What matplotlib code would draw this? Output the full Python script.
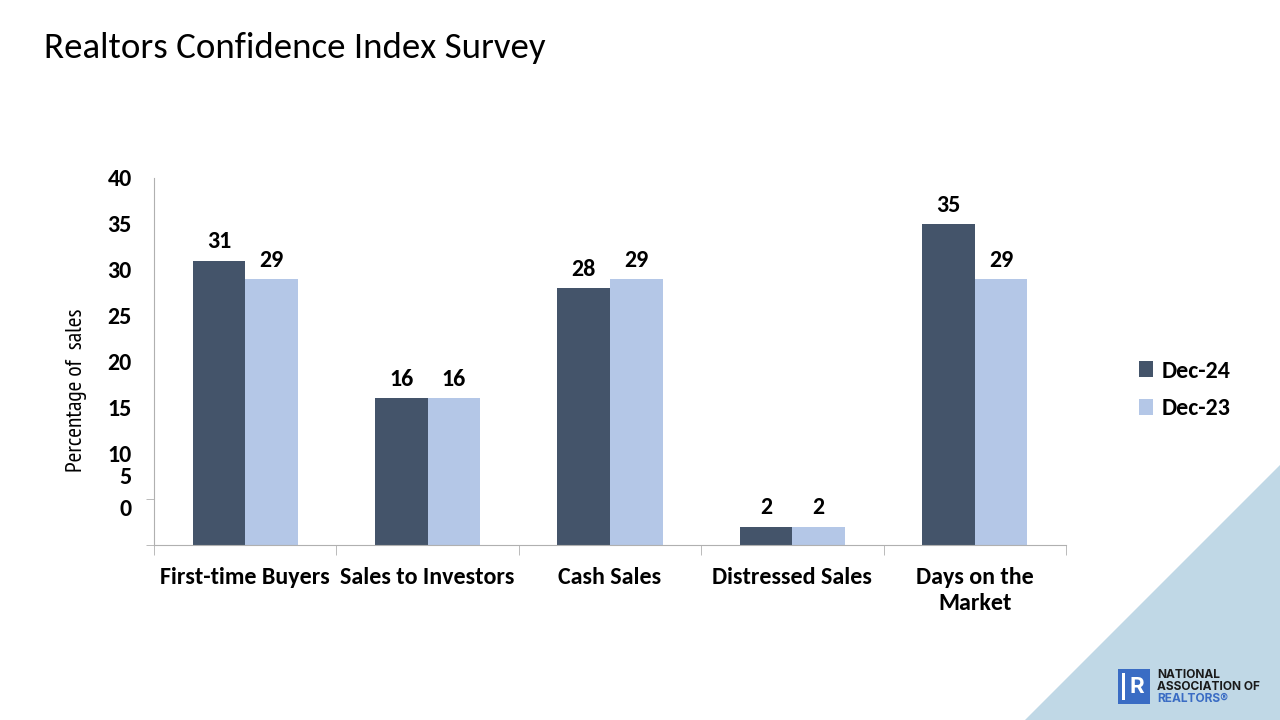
import numpy as np
import matplotlib.pyplot as plt
from matplotlib.patches import Polygon, Rectangle

# dados
categorias = ["First-time Buyers", "Sales to Investors", "Cash Sales",
              "Distressed Sales", "Days on the\nMarket"]
dez24 = [31, 16, 28, 2, 35]
dez23 = [29, 16, 29, 2, 29]
series = ["Dec-24", "Dec-23"]

escuro = "#44546a"
claro = "#b4c7e7"
cinza = "#b0b0b0"
fonte = ["Carlito", "Lato", "DejaVu Sans"]

fig = plt.figure(figsize=(12.8, 7.2), dpi=100)

# fundo: triangulo azul no canto
bg = fig.add_axes([0, 0, 1, 1], zorder=-1)
bg.set_xlim(0, 1280)
bg.set_ylim(720, 0)
bg.axis("off")
bg.add_patch(Polygon([[1280, 465], [1280, 720], [1025, 720]], closed=True,
                     facecolor="#c0d8e6", edgecolor="none"))

# logo
bg.add_patch(Rectangle((1118, 669), 32, 35, facecolor="#3a6cc4", edgecolor="none"))
bg.add_patch(Rectangle((1122, 673), 3, 27, facecolor="white", edgecolor="none"))
bg.text(1137, 687, "R", color="white", fontsize=16, fontweight="bold",
        ha="center", va="center", family=["Inter", "Liberation Sans"])
for yy, txt, cor in [(675, "NATIONAL", "#1a1a1a"), (687, "ASSOCIATION OF", "#1a1a1a"),
                     (699, "REALTORS\u00ae", "#3a6cc4")]:
    bg.text(1157, yy, txt, fontsize=8.6, fontweight="bold", color=cor,
            va="center", family=["Inter", "Liberation Sans"])

# titulo
fig.text(44 / 1280, 1 - 48 / 720, "Realtors Confidence Index Survey", fontsize=26.6,
         family=fonte, va="center", ha="left")

# eixo principal
L, R, T, B = 154, 1066, 178, 545
ax = fig.add_axes([L / 1280, 1 - B / 720, (R - L) / 1280, (B - T) / 720])

x = np.arange(len(categorias))
w = 0.288
b1 = ax.bar(x - w / 2, dez24, w, color=escuro, label=series[0])
b2 = ax.bar(x + w / 2, dez23, w, color=claro, label=series[1])

for barras in (b1, b2):
    for bar in barras:
        ax.annotate(f"{bar.get_height():.0f}",
                    (bar.get_x() + bar.get_width() / 2, bar.get_height()),
                    xytext=(0, 6), textcoords="offset points", ha="center", va="bottom",
                    fontsize=17.3, fontweight="bold", family=fonte)

ax.set_xlim(-0.5, len(categorias) - 0.5)
ax.set_ylim(0, 40)

# marcas do eixo y (como no original, os rotulos de 5 e 0 ficam deslocados)
ax.set_yticks(np.arange(0, 41, 5), minor=True)
ax.tick_params(axis="y", which="minor", length=6, color=cinza, direction="out")
pos_rotulos = [4.1, 7.6, 10, 15, 20, 25, 30, 35, 40]
txt_rotulos = ["0", "5", "10", "15", "20", "25", "30", "35", "40"]
ax.set_yticks(pos_rotulos, txt_rotulos)
ax.tick_params(axis="y", which="major", length=0, pad=16)
for t in ax.get_yticklabels():
    t.set_fontsize(17.3)
    t.set_fontweight("bold")
    t.set_family(fonte)

# marcas do eixo x nas divisas
ax.set_xticks(np.arange(-0.5, len(categorias), 1), minor=True)
ax.tick_params(axis="x", which="minor", length=7, color=cinza, direction="out")
ax.set_xticks(x, categorias)
ax.tick_params(axis="x", which="major", length=0, pad=16)
for t in ax.get_xticklabels():
    t.set_fontsize(17.3)
    t.set_fontweight("bold")
    t.set_family(fonte)
    t.set_linespacing(1.3)
    t.set_va("top")

for s in ["top", "right"]:
    ax.spines[s].set_visible(False)
ax.spines["left"].set_color(cinza)
ax.spines["bottom"].set_color(cinza)

ax.set_ylabel("Percentage of  sales", fontsize=17,
              family=["PT Sans Narrow", "DejaVu Sans"])
ax.yaxis.set_label_coords(-0.073, 0.422)

leg = fig.legend(handles=[b1, b2], labels=series, loc="center left",
                 bbox_to_anchor=(1117 / 1280, 1 - 390 / 720), frameon=False,
                 handlelength=0.6, handleheight=0.6, handletextpad=0.35,
                 labelspacing=0.7, prop={"family": fonte, "weight": "bold", "size": 17.3})

fig.savefig("out.png", dpi=100)
